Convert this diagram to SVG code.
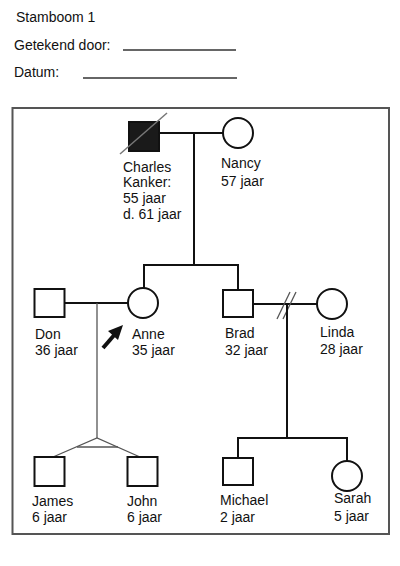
<svg xmlns="http://www.w3.org/2000/svg" width="400" height="566" viewBox="0 0 400 566">
<style>
text{font-family:"Liberation Sans",Arial,sans-serif;font-size:14px;fill:#111}
.sym{fill:#fff;stroke:#111;stroke-width:2}
.ln{stroke:#111;stroke-width:2;fill:none}
.thin{stroke:#555;stroke-width:1.3;fill:none}
</style>
<rect width="400" height="566" fill="#fff"/>
<g id="header">
<text x="16" y="22">Stamboom 1</text>
<text x="14" y="50">Getekend door:</text>
<line x1="123" y1="50" x2="236" y2="50" stroke="#666" stroke-width="2"/>
<text x="14" y="77">Datum:</text>
<line x1="83" y1="78" x2="237" y2="78" stroke="#666" stroke-width="2"/>
</g>
<rect id="frame" x="12.5" y="108" width="376.5" height="426" fill="none" stroke="#555" stroke-width="2"/>
<g id="connectors">
<line class="ln" x1="159" y1="133" x2="223" y2="133"/>
<line class="ln" x1="194" y1="133" x2="194" y2="265"/>
<polyline class="ln" points="144,289 144,265 238,265 238,290"/>
<line class="ln" x1="65" y1="303" x2="128" y2="303"/>
<line class="ln" x1="253" y1="304" x2="317" y2="304"/>
<line class="thin" x1="277" y1="319" x2="290" y2="292"/>
<line class="thin" x1="283" y1="319" x2="296" y2="292"/>
<line class="ln" x1="287" y1="304" x2="287" y2="438"/>
<polyline class="ln" points="238,458 238,438 347,438 347,461"/>
<line class="thin" x1="97" y1="303" x2="97" y2="438"/>
<polyline class="thin" points="53,457 97,438 140,457"/>
<line class="thin" x1="77" y1="447" x2="118" y2="447"/>
<line x1="103" y1="348" x2="116" y2="333" stroke="#111" stroke-width="4"/>
<polygon points="123,325 108,331 118,340" fill="#111"/>
</g>
<g id="charles">
<rect x="129" y="122" width="30" height="29" fill="#1a1a1a" stroke="#111" stroke-width="2"/>
<line x1="120" y1="154" x2="167" y2="113" stroke="#777" stroke-width="1.5"/>
<text x="123" y="172">Charles</text>
<text x="123" y="187">Kanker:</text>
<text x="123" y="203">55 jaar</text>
<text x="123" y="219">d. 61 jaar</text>
</g>
<g id="nancy">
<circle class="sym" cx="238" cy="133" r="15"/>
<text x="221" y="168">Nancy</text>
<text x="221" y="186">57 jaar</text>
</g>
<g id="don">
<rect class="sym" x="34.5" y="289" width="30" height="28"/>
<text x="35" y="339">Don</text>
<text x="35" y="355">36 jaar</text>
</g>
<g id="anne">
<circle class="sym" cx="143" cy="303" r="15"/>
<text x="132" y="339">Anne</text>
<text x="132" y="355">35 jaar</text>
</g>
<g id="brad">
<rect class="sym" x="223" y="290" width="30" height="27"/>
<text x="225" y="338">Brad</text>
<text x="225" y="355">32 jaar</text>
</g>
<g id="linda">
<circle class="sym" cx="332" cy="304" r="15"/>
<text x="320" y="337">Linda</text>
<text x="320" y="354">28 jaar</text>
</g>
<g id="james">
<rect class="sym" x="34.5" y="457" width="30" height="29"/>
<text x="32" y="506">James</text>
<text x="32" y="522">6 jaar</text>
</g>
<g id="john">
<rect class="sym" x="127.5" y="457" width="30" height="29"/>
<text x="127" y="506">John</text>
<text x="127" y="522">6 jaar</text>
</g>
<g id="michael">
<rect class="sym" x="223" y="458" width="30" height="27"/>
<text x="220" y="505">Michael</text>
<text x="220" y="522">2 jaar</text>
</g>
<g id="sarah">
<circle class="sym" cx="347" cy="476" r="15"/>
<text x="334" y="503">Sarah</text>
<text x="334" y="521">5 jaar</text>
</g>
</svg>
